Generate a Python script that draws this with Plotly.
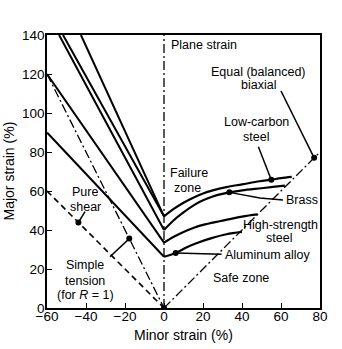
import plotly.graph_objects as go

# ---- data (minor strain %, major strain %) ----
# left-hand (negative minor strain) straight branches of forming-limit curves
lc_left_x = [-42.6, 0]
lc_left_y = [140, 47]
lc2_left_x = [-51.8, 0]
lc2_left_y = [140, 47]
brass_left_x = [-53.8, 0]
brass_left_y = [140, 40]
hss_left_x = [-60, 0]
hss_left_y = [120, 33.5]
al_left_x = [-60, 0]
al_left_y = [90, 26.3]

# right-hand (positive minor strain) curved branches
lc_right_x = [0, 5, 10, 15, 20, 25, 32, 40, 49, 55, 60, 65.5]
lc_right_y = [47, 50.8, 54, 56.6, 58.7, 60.3, 62, 63.4, 65, 65.8, 66.6, 67.2]
brass_right_x = [0, 5, 10, 15, 20, 25, 33.5, 40, 50, 57, 62]
brass_right_y = [40, 45, 49, 52.5, 55.2, 57.2, 59.3, 60.3, 61.4, 62.2, 62.8]
hss_right_x = [0, 5, 10, 15, 20, 29, 40, 48]
hss_right_y = [33.5, 36.5, 39, 41, 42.6, 44.6, 46.9, 48]
al_right_x = [0, 6, 12, 18, 24, 32, 40]
al_right_y = [26.3, 28.2, 31.3, 33.7, 35.7, 37.8, 39]

# strain-path reference lines
plane_x = [0, 0]
plane_y = [0, 140]
tension_x = [-60, 0]
tension_y = [120, 0]
shear_x = [-60, 0]
shear_y = [60, 0]
biax_x = [0, 80]
biax_y = [0, 80]

# label pointer lines (start near label -> dot)
ptr_shear_x = [-40.5, -43.9]
ptr_shear_y = [49.4, 43.9]
ptr_tension_x = [-27.7, -17.8]
ptr_tension_y = [26.3, 35.6]
ptr_biax_x = [60, 77]
ptr_biax_y = [111.3, 77]
ptr_lc_x = [48.4, 55]
ptr_lc_y = [82.7, 65.8]
ptr_brass_x = [61, 49.2, 33.5]
ptr_brass_y = [55.4, 56.4, 59.3]
ptr_al_x = [29.5, 6]
ptr_al_y = [27.6, 28.2]

dots_x = [-43.9, -17.8, 77, 55, 33.5, 6, 0]
dots_y = [43.9, 35.6, 77, 65.8, 59.3, 28.2, 0]

x_ticks = [-60, -40, -20, 0, 20, 40, 60, 80]
y_ticks = [0, 20, 40, 60, 80, 100, 120, 140]

FONT = "Liberation Sans, Arial, Helvetica, sans-serif"
DASHDOT = "9px,3px,2px,3px"

fig = go.Figure()

def line(x, y, width=2.0, dash="solid", shape="linear"):
    fig.add_trace(go.Scatter(x=x, y=y, mode="lines",
                             line=dict(color="black", width=width, dash=dash, shape=shape),
                             hoverinfo="skip", showlegend=False))

for xs, ys in [(lc_left_x, lc_left_y), (lc2_left_x, lc2_left_y), (brass_left_x, brass_left_y),
               (hss_left_x, hss_left_y), (al_left_x, al_left_y)]:
    line(xs, ys, 2.0)
for xs, ys in [(lc_right_x, lc_right_y), (brass_right_x, brass_right_y),
               (hss_right_x, hss_right_y), (al_right_x, al_right_y)]:
    line(xs, ys, 2.2, shape="spline")

line(plane_x, plane_y, 1.3, DASHDOT)
line(tension_x, tension_y, 1.3, DASHDOT)
line(biax_x, biax_y, 1.3, DASHDOT)
line(shear_x, shear_y, 1.6, "6px,4px")

for xs, ys in [(ptr_shear_x, ptr_shear_y), (ptr_tension_x, ptr_tension_y), (ptr_biax_x, ptr_biax_y),
               (ptr_lc_x, ptr_lc_y), (ptr_brass_x, ptr_brass_y), (ptr_al_x, ptr_al_y)]:
    line(xs, ys, 1.5)

fig.add_trace(go.Scatter(x=dots_x, y=dots_y, mode="markers",
                         marker=dict(color="black", size=6), hoverinfo="skip", showlegend=False))

labels = [
    ("Plane strain", 2.5, 135, "left"),
    ("Equal (balanced)", 48.7, 121, "center"),
    ("biaxial", 48.7, 114.4, "center"),
    ("Low-carbon", 47.2, 95.4, "center"),
    ("steel", 47.2, 87.7, "center"),
    ("Failure", 12.8, 69.2, "center"),
    ("zone", 12, 61.4, "center"),
    ("Brass", 61.5, 55.4, "left"),
    ("High-strength", 59.5, 42.6, "center"),
    ("steel", 59, 35.9, "center"),
    ("Aluminum alloy", 30.2, 27.2, "left"),
    ("Safe zone", 39.5, 15.4, "center"),
    ("Pure", -40.5, 59.5, "center"),
    ("shear", -40.5, 52, "center"),
    ("Simple", -40.5, 22, "center"),
    ("tension", -40.5, 13.8, "center"),
    ("(for <i>R</i> = 1)", -40.5, 6.7, "center"),
]
anns = []
for t, x, y, anc in labels:
    anns.append(dict(text=t, x=x, y=y, xref="x", yref="y", xanchor=anc, yanchor="middle",
                     showarrow=False, font=dict(family=FONT, size=12.5, color="black")))
anns.append(dict(text="Minor strain (%)", x=0.5, y=0, xref="paper", yref="paper",
                 xanchor="center", yanchor="top", yshift=-17, showarrow=False,
                 font=dict(family=FONT, size=14, color="black")))
anns.append(dict(text="Major strain (%)", x=0, y=0.5, xref="paper", yref="paper",
                 xanchor="right", yanchor="middle", xshift=-29, textangle=-90, showarrow=False,
                 font=dict(family=FONT, size=14, color="black")))

axis_common = dict(showgrid=False, zeroline=False, showline=True, linecolor="black", linewidth=1.5,
                   mirror=True, ticks="inside", ticklen=5, tickcolor="black", tickwidth=1.2,
                   tickfont=dict(family=FONT, size=13.5, color="black"))

fig.update_layout(
    width=342, height=349,
    margin=dict(l=47, r=22, t=35, b=41),
    paper_bgcolor="white", plot_bgcolor="white",
    xaxis=dict(range=[-60, 80], tickvals=x_ticks, ticklabelstandoff=-5, **axis_common),
    yaxis=dict(range=[0, 140], tickvals=y_ticks, ticklabelstandoff=-2, **axis_common),
    annotations=anns,
    showlegend=False,
)

fig.write_html("out.html")
